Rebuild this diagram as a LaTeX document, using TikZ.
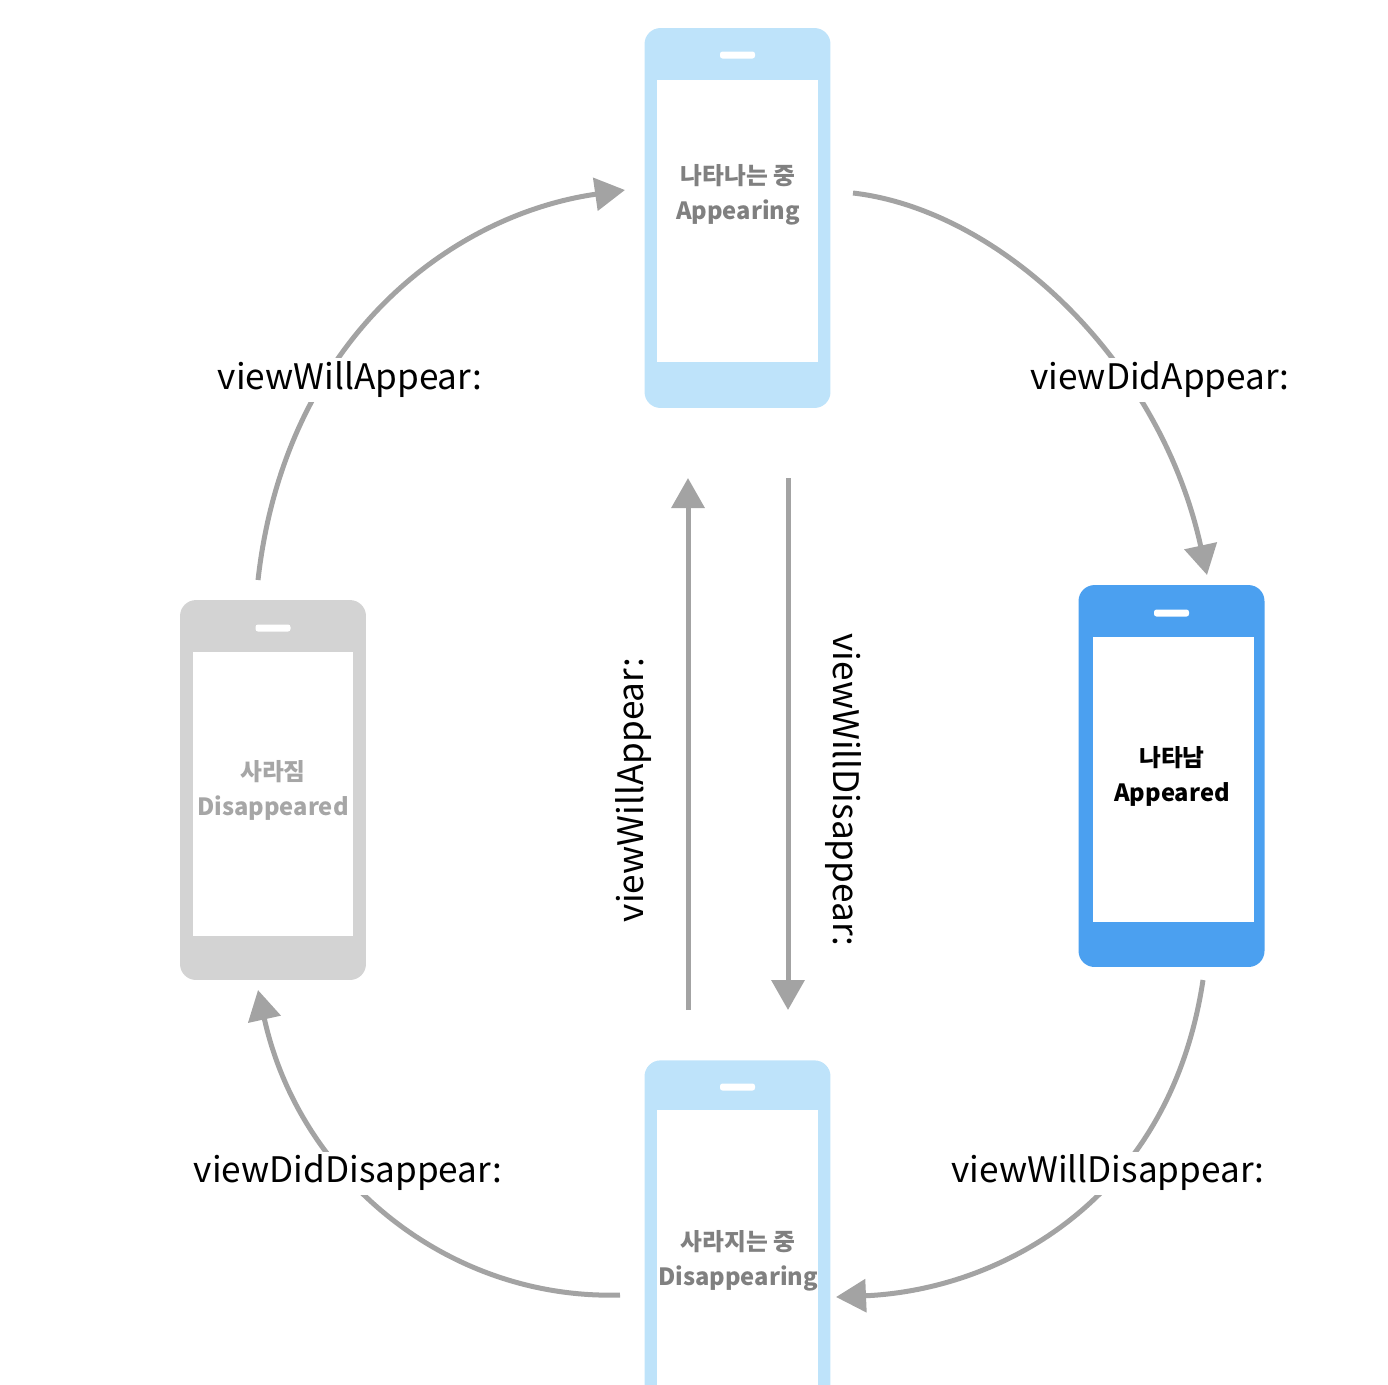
\documentclass[tikz,border=0pt]{standalone}
\usepackage{fontspec}
\setmainfont{Noto Sans CJK KR}
\usetikzlibrary{arrows.meta}
\definecolor{lblue}{HTML}{BEE3FA}
\definecolor{dblue}{HTML}{4BA0F0}
\definecolor{pgray}{HTML}{D3D3D3}
\definecolor{agray}{HTML}{A3A3A3}
\tikzset{
  body/.style={draw=none,rounded corners=0.32cm,inner sep=0,minimum width=3.72cm},
  screen/.style={fill=white,draw=none,inner sep=0,minimum width=3.22cm},
  spk/.style={fill=white,rounded corners=0.05cm,inner sep=0,minimum width=0.7cm,minimum height=0.14cm},
  arr/.style={draw=agray,line width=0.1cm,-{Triangle[length=0.6cm,width=0.65cm]}},
  lab/.style={font=\fontsize{20}{24}\selectfont,fill=white,inner sep=2pt},
  ptxt/.style={font=\fontsize{13.5}{20}\selectfont\bfseries,align=center}
}
\begin{document}
\begin{tikzpicture}[x=0.02cm,y=-0.02cm]
\useasboundingbox (0,0) rectangle (1388,1384);
% phones
\node[body,fill=lblue,minimum height=7.6cm] (pt) at (737.5,218) {};
\node[screen,minimum height=5.64cm] (st) at (737.5,221) {};
\node[spk] (kt) at (737.5,55) {};
\node[body,fill=dblue,minimum height=7.64cm] (pr) at (1171.5,776) {};
\node[screen,minimum height=5.7cm] (sr) at (1173,779.5) {};
\node[spk] (kr) at (1171.5,613) {};
\node[body,fill=pgray,minimum height=7.6cm] (pl) at (273,790) {};
\node[screen,minimum height=5.68cm] (sl) at (273,794) {};
\node[spk] (kl) at (273,628) {};
\begin{scope}
\clip (0,0) rectangle (1388,1384);
\node[body,fill=lblue,minimum height=7.6cm,anchor=north] (pb) at (737.5,1060) {};
\node[screen,minimum height=5.64cm,anchor=north] (sb) at (737.5,1110) {};
\node[spk] (kb) at (737.5,1087) {};
\end{scope}
% phone texts
\node[ptxt,text=gray] (tt) at (738,195) {나타나는 중\\Appearing};
\node[ptxt,text=black] (tr) at (1172,776) {나타남\\Appeared};
\node[ptxt,text=black!35] (tl) at (273,790) {사라짐\\Disappeared};
\node[ptxt,text=gray] (tb) at (738,1261) {사라지는 중\\Disappearing};
% connector end points
\coordinate (a1) at (258,580); \coordinate (a2) at (625,190);
\coordinate (b1) at (853,193); \coordinate (b2) at (1207,575);
\coordinate (c1) at (1203,980); \coordinate (c2) at (836,1297);
\coordinate (d1) at (620,1295); \coordinate (d2) at (258,990);
\coordinate (u1) at (688,1010); \coordinate (u2) at (688,478);
\coordinate (v1) at (788,478); \coordinate (v2) at (788,1010);
\draw[arr] (a1) .. controls (285,340) and (450,215) .. (a2);
\draw[arr] (b1) .. controls (1000,210) and (1160,360) .. (b2);
\draw[arr] (c1) .. controls (1170,1200) and (1000,1290) .. (c2);
\draw[arr] (d1) .. controls (450,1300) and (300,1180) .. (d2);
\draw[arr] (u1) -- (u2);
\draw[arr] (v1) -- (v2);
% labels
\node[lab] (l1) at (350,380) {viewWillAppear:};
\node[lab] (l2) at (1160,380) {viewDidAppear:};
\node[lab] (l3) at (1108,1173) {viewWillDisappear:};
\node[lab] (l4) at (348,1173) {viewDidDisappear:};
\node[lab,fill=none,rotate=90] (l5) at (634,790) {viewWillAppear:};
\node[lab,fill=none,rotate=-90] (l6) at (843,790) {viewWillDisappear:};
\end{tikzpicture}
\end{document}
